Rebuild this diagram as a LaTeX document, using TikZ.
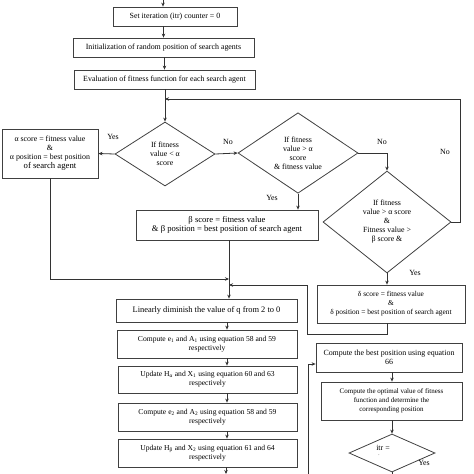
\documentclass[tikz,border=0pt]{standalone}
\usepackage{fontspec}
\setmainfont{Liberation Serif}
\usetikzlibrary{arrows.meta,shapes.geometric}
\begin{document}
\begin{tikzpicture}[x=1pt,y=-1pt,
  every node/.style={font=\fontsize{7.9}{9}\selectfont},
  box/.style={draw=black!75,line width=0.8pt,rectangle,inner sep=1pt,align=center},
  dia/.style={draw=black!75,line width=0.8pt,diamond,inner sep=0pt,align=center},
  conn/.style={draw=black!80,line width=0.8pt},
  arr/.style={conn,-{Stealth[length=4pt,width=3.5pt]}},
  lbl/.style={inner sep=0pt}]
\useasboundingbox (0,0) rectangle (474,474);
% boxes
\node[box,minimum width=124pt,minimum height=19pt] (b1) at (175,16.5) {Set iteration (itr) counter = 0};
\node[box,minimum width=181pt,minimum height=19pt] (b2) at (163.5,47.5) {Initialization of random position of search agents};
\node[box,minimum width=181pt,minimum height=19pt] (b3) at (164.5,79.5) {Evaluation of fitness function for each search agent};
\node[box,minimum width=96pt,minimum height=49pt] (alpha) at (50,153.5) {α score = fitness value\\ \&\\ α position = best position\\ {\fontsize{8.7}{9}\selectfont of search agent}};
\node[box,minimum width=182pt,minimum height=30pt,font=\fontsize{8.6}{9.5}\selectfont] (beta) at (227,225) {β score = fitness value\\ \& β position = best position of search agent};
\node[box,minimum width=148pt,minimum height=38pt,font=\fontsize{7.4}{9}\selectfont] (delta) at (391,304) {δ score = fitness value\\ \&\\ δ position = best position of search agent};
\node[box,minimum width=181pt,minimum height=23pt,font=\fontsize{8.4}{9}\selectfont] (lin) at (206.5,310.5) {Linearly diminish the value of q from 2 to 0};
\node[box,minimum width=180pt,minimum height=28pt,font=\fontsize{7.6}{9}\selectfont] (e1) at (207,344) {Compute e\textsubscript{1} and A\textsubscript{1} using equation 58 and 59\\ respectively};
\node[box,minimum width=179pt,minimum height=27pt,font=\fontsize{7.6}{9}\selectfont] (ha) at (207.5,379.5) {Update H\textsubscript{α} and X\textsubscript{1} using equation 60 and 63\\ respectively};
\node[box,minimum width=179pt,minimum height=28pt,font=\fontsize{7.6}{9}\selectfont] (e2) at (207.5,417) {Compute e\textsubscript{2} and A\textsubscript{2} using equation 58 and 59\\ respectively};
\node[box,minimum width=179pt,minimum height=28pt,font=\fontsize{7.6}{9}\selectfont] (hb) at (207.5,453) {Update H\textsubscript{β} and X\textsubscript{2} using equation 61 and 64\\ respectively};
\node[box,minimum width=146pt,minimum height=29pt] (best) at (389,357.5) {Compute the best position using equation\\ 66};
\node[box,minimum width=141pt,minimum height=38pt,font=\fontsize{7}{9}\selectfont] (opt) at (391.5,401) {Compute the optimal value of fitness\\ function and determine the\\ corresponding position};
% diamonds
\node[dia,minimum width=100pt,minimum height=64pt] (d1) at (165,154) {If fitness\\ value < α\\ score};
\node[dia,minimum width=120pt,minimum height=80pt] (d2) at (298,153) {If fitness\\ value > α\\ score\\ \& fitness value};
\node[dia,minimum width=128pt,minimum height=102pt] (d3) at (387,222) {If fitness\\ value > α score\\ \&\\ Fitness value >\\ β score \&};
\node[dia,minimum width=86pt,minimum height=38pt] (d4) at (392,453) {};
\node[lbl] (itr) at (383,448) {itr =};
\node[lbl,font=\fontsize{5}{6}\selectfont] (dot) at (379,455) {.};
% coordinates
\coordinate (top) at (163,0);
\coordinate (loopR) at (460,99);
\coordinate (j1) at (229,279);
\coordinate (j2) at (229,285);
\coordinate (dl1) at (307,334);
\coordinate (col) at (227,0);
\coordinate (hbEnd) at (226,474);
\coordinate (rcBot) at (308,474);
\coordinate (rcTop) at (308,364);
\coordinate (d4End) at (392,474);
% connectors
\draw[arr] (top) -- (top |- b1.north);
\draw[arr] (b1.south -| b2.north) -- (b2.north);
\draw[arr] (b2.south -| b3.north) -- (b3.north);
\draw[arr] (b3.south -| d1.north) -- (d1.north);
\draw[arr] (d3.east) -| (loopR) -- (loopR -| d1.north);
\draw[arr] (d1.west) -- (alpha.east);
\draw[arr] (d1.east) -- (d2.west);
\draw[arr] (d2.south) -- (d2.south |- beta.north);
\draw[arr] (d2.east) -| (d3.north);
\draw[arr] (d3.south) -- (d3.south |- delta.north);
\draw[arr] (alpha.south) |- (j1);
\draw[arr] (beta.south -| j1) -- (j1 |- lin.north);
\draw[arr] (delta.south -| d3.south) |- (dl1) |- (j2);
\draw[arr] (lin.south -| col) -- (col |- e1.north);
\draw[arr] (e1.south -| col) -- (col |- ha.north);
\draw[arr] (ha.south -| col) -- (col |- e2.north);
\draw[arr] (e2.south -| col) -- (col |- hb.north);
\draw[arr] (hb.south -| hbEnd) -- (hbEnd);
\draw[arr] (rcBot) -- (rcTop) -- (rcTop -| best.west);
\draw[arr] (best.south -| d4.north) -- (opt.north -| d4.north);
\draw[arr] (opt.south -| d4.north) -- (d4.north);
\draw[conn] (d4.south) -- (d4End);
% labels
\node[lbl] (y1) at (113,137) {Yes};
\node[lbl] (n1) at (228,142) {No};
\node[lbl] (y2) at (272,198) {Yes};
\node[lbl] (n2) at (382,142) {No};
\node[lbl] (n3) at (445,152) {No};
\node[lbl] (y3) at (415,273) {Yes};
\node[lbl] (y4) at (424,463) {Yes};
\end{tikzpicture}
\end{document}
